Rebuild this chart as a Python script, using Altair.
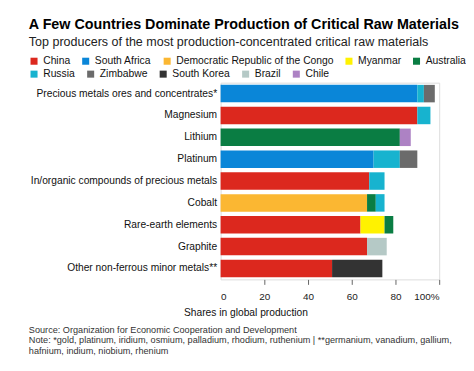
import altair as alt
import pandas as pd

materials = [
    "Precious metals ores and concentrates*",
    "Magnesium",
    "Lithium",
    "Platinum",
    "In/organic compounds of precious metals",
    "Cobalt",
    "Rare-earth elements",
    "Graphite",
    "Other non-ferrous minor metals**",
]
countries_by_material = [
    ["South Africa", "Russia", "Zimbabwe"],
    ["China", "Russia"],
    ["Australia", "Chile"],
    ["South Africa", "Russia", "Zimbabwe"],
    ["China", "Russia"],
    ["Democratic Republic of the Congo", "Australia", "Russia"],
    ["China", "Myanmar", "Australia"],
    ["China", "Brazil"],
    ["China", "South Korea"],
]
shares_by_material = [
    [90, 3, 5],
    [90, 6],
    [82, 5],
    [70, 12, 8],
    [68, 7],
    [67, 4, 4],
    [64, 11, 4],
    [67, 9],
    [51, 23],
]
legend_row1 = ["China", "South Africa", "Democratic Republic of the Congo", "Myanmar", "Australia"]
colors_row1 = ["#dc281e", "#0a86d8", "#fbb732", "#fff200", "#0a7d43"]
legend_row2 = ["Russia", "Zimbabwe", "South Korea", "Brazil", "Chile"]
colors_row2 = ["#17b3cf", "#6b6b6b", "#333333", "#b5c9c6", "#ad82c4"]
x_ticks = [0, 20, 40, 60, 80, 100]

title_text = "A Few Countries Dominate Production of Critical Raw Materials"
subtitle_text = "Top producers of the most production-concentrated critical raw materials"
x_title = "Shares in global production"
footer_text = (
    "Source: Organization for Economic Cooperation and Development\n"
    "Note: *gold, platinum, iridium, osmium, palladium, rhodium, ruthenium | **germanium, vanadium, gallium,\n"
    "hafnium, indium, niobium, rhenium"
)

rows = []
for m, cs, vs in zip(materials, countries_by_material, shares_by_material):
    start = 0
    for c, v in zip(cs, vs):
        rows.append({"material": m, "country": c, "start": start, "end": start + v})
        start += v
df = pd.DataFrame(rows)

FONT = "Liberation Sans"
W, H = 220, 198
LEG_X = -193

x_enc = alt.X(
    "start:Q",
    scale=alt.Scale(domain=[0, 100], nice=False),
    axis=alt.Axis(
        values=x_ticks,
        title=x_title,
        labelExpr="datum.value == 100 ? '100%' : datum.label",
        domain=False,
        grid=False,
        tickSize=5,
        tickColor={"condition": {"test": "datum.value === 0", "value": "transparent"}, "value": "#666666"},
        labelFontSize=10,
        labelColor="#222222",
        labelPadding=7,
        titleFontSize=10.3,
        titleFontWeight="normal",
        titleColor="#111111",
        titleX=25,
        titleY=33,
        titleBaseline="middle",
        titleAlign="center",
    ),
)
y_enc = alt.Y(
    "material:N",
    sort=materials,
    scale=alt.Scale(paddingInner=0.2, paddingOuter=0.1),
    axis=alt.Axis(
        title=None,
        ticks=False,
        domain=False,
        labelFontSize=10.3,
        labelColor="#111111",
        labelPadding=4,
        labelLimit=300,
    ),
)


def legend(legend_y):
    return alt.Legend(
        title=None,
        orient="none",
        legendX=LEG_X,
        legendY=legend_y,
        direction="horizontal",
        columnPadding=10,
        symbolType="square",
        symbolSize=50,
        symbolStrokeWidth=0,
        symbolOffset=0,
        labelOffset=4,
        labelFontSize=10.4,
        labelLimit=400,
        labelColor="#111111",
    )


bars1 = alt.Chart(df).transform_filter(
    alt.FieldOneOfPredicate(field="country", oneOf=legend_row1)
).mark_bar(size=17.6).encode(
    x=x_enc,
    x2="end:Q",
    y=y_enc,
    color=alt.Color(
        "country:N",
        scale=alt.Scale(domain=legend_row1, range=colors_row1),
        legend=legend(-27),
    ),
)

bars2 = alt.Chart(df).transform_filter(
    alt.FieldOneOfPredicate(field="country", oneOf=legend_row2)
).mark_bar(size=17.6).encode(
    x=x_enc,
    x2="end:Q",
    y=y_enc,
    color=alt.Color(
        "country:N",
        scale=alt.Scale(domain=legend_row2, range=colors_row2),
        legend=legend(-14),
    ),
)

footer = alt.Chart(alt.Data(values=[{"t": footer_text}])).mark_text(
    lineBreak="\n",
    align="left",
    baseline="top",
    fontSize=9.2,
    lineHeight=10.5,
    color="#333333",
    font=FONT,
).encode(
    text="t:N",
    x=alt.value(LEG_X),
    y=alt.value(H + 47),
)

chart = alt.layer(bars1, bars2, footer).resolve_scale(color="independent").properties(
    width=W,
    height=H,
    padding={"left": 21, "top": 8, "right": 0, "bottom": 8},
    title=alt.TitleParams(
        text=title_text,
        subtitle=subtitle_text,
        anchor="start",
        frame="bounds",
        fontSize=14.4,
        fontWeight="bold",
        color="#000000",
        subtitleFontSize=12.6,
        subtitleColor="#222222",
        subtitlePadding=4,
        offset=6,
        font=FONT,
        subtitleFont=FONT,
    ),
    background="white",
).configure_view(stroke=None).configure(font=FONT)

chart.save("out.html", embed_options={"renderer": "svg", "actions": False})
